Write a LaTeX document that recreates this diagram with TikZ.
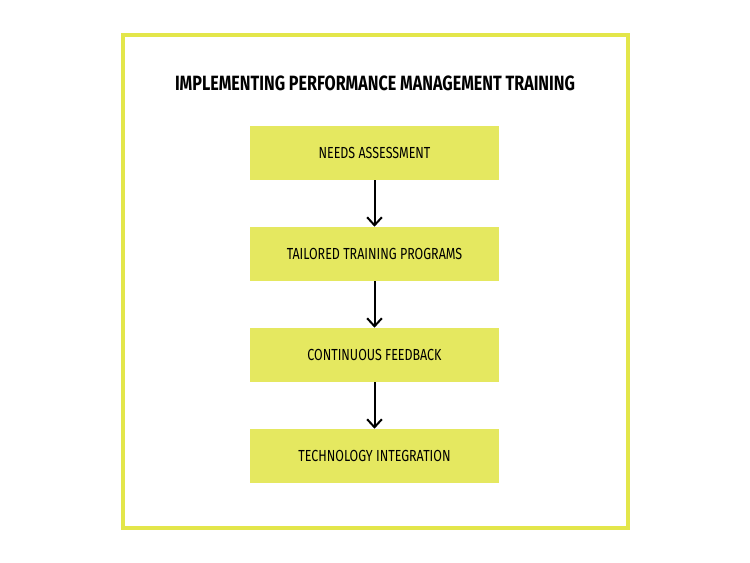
\documentclass[tikz,border=0pt]{standalone}
\usepackage{fontspec}
\setmainfont[FakeStretch=0.78]{Fira Sans}
\usetikzlibrary{arrows.meta}
\definecolor{ylw}{HTML}{E5E860}
\definecolor{frm}{HTML}{E3E64A}
\begin{document}
\begin{tikzpicture}[x=0.75pt,y=-0.75pt,
  stepbox/.style={fill=ylw,minimum width=249*0.75pt,minimum height=54*0.75pt,inner sep=0pt,font=\fontsize{12}{14}\selectfont},
  conn/.style={draw=black,line width=1.5pt,-{Straight Barb[length=6pt,width=11pt,line width=1.5pt]}}]
\useasboundingbox (0,0) rectangle (750,563);
\draw[frm,line width=2.5pt] (123,35) rectangle (628,528);
\node (title) at (375,83) {\fontsize{15.5}{18}\selectfont\bfseries IMPLEMENTING PERFORMANCE MANAGEMENT TRAINING};
\node[stepbox] (a) at (374.5,153) {NEEDS ASSESSMENT};
\node[stepbox] (b) at (374.5,254) {TAILORED TRAINING PROGRAMS};
\node[stepbox] (c) at (374.5,355) {CONTINUOUS FEEDBACK};
\node[stepbox] (d) at (374.5,456) {TECHNOLOGY INTEGRATION};
\draw[conn] (a.south) -- (b.north);
\draw[conn] (b.south) -- (c.north);
\draw[conn] (c.south) -- (d.north);
\end{tikzpicture}
\end{document}
